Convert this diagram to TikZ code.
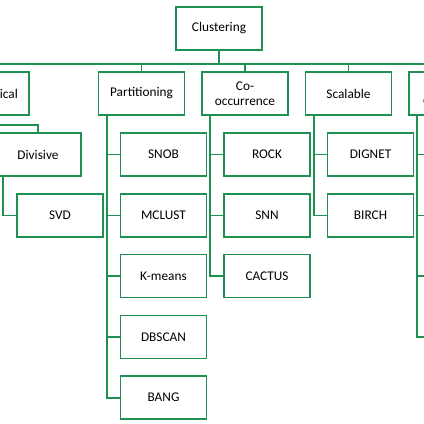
\documentclass[tikz,border=0pt]{standalone}
\usepackage{fontspec}
\setmainfont{Carlito}
\usepackage{tikz}
\definecolor{boxgreen}{RGB}{30,145,82}

\begin{document}
\begin{tikzpicture}[x=1pt,y=-1pt, every node/.style={font=\fontsize{13.3}{15.5}\selectfont},
    box/.style={draw=boxgreen, line width=1.6pt, minimum width=86pt, minimum height=43pt, align=center, inner sep=1pt},
    link/.style={draw=boxgreen, line width=1.6pt}]
  \useasboundingbox (0,0) rectangle (424,424);
  \clip (0,0) rectangle (424,424);
  % root and first level
  \node[box] (clus) at (219,28.5) {Clustering};
  \draw[link] (clus.south) -- ++(0,13) coordinate (bus);
  \foreach \n/\x/\t in {hier/-14/Hierarchical, part/141.5/Partitioning, cooc/245/{Co-\\occurrence}, scal/348.5/Scalable, soft/452/{Soft\\computing}}{
    \node[box] (\n) at (\x,93.5) {\t};
    \draw[link] (\n.north) -- (\n |- bus);
  }
  \draw[link] (hier |- bus) -- (soft |- bus);
  % hierarchical branch
  \node[box] (div) at (38,154.5) {Divisive};
  \draw[link] (hier.south) -- ++(0,9) -| (div.north);
  \node[box] (svd) at (60,215.3) {SVD};
  \draw[link] ([xshift=9pt]div.south west) |- (svd.west);
  % second level, one column per parent
  \foreach \n/\t [count=\i from 0] in {snob/SNOB, mclust/MCLUST, kmeans/K-means, dbscan/DBSCAN, bang/BANG}{
    \node[box] (\n) at (163.5,154.5+60.8*\i) {\t};
    \draw[link] ([xshift=9pt]part.south west) |- (\n.west);
  }
  \foreach \n/\t [count=\i from 0] in {rock/ROCK, snn/SNN, cactus/CACTUS}{
    \node[box] (\n) at (267,154.5+60.8*\i) {\t};
    \draw[link] ([xshift=9pt]cooc.south west) |- (\n.west);
  }
  \foreach \n/\t [count=\i from 0] in {dignet/DIGNET, birch/BIRCH}{
    \node[box] (\n) at (370.5,154.5+60.8*\i) {\t};
    \draw[link] ([xshift=9pt]scal.south west) |- (\n.west);
  }
  \foreach \i in {0,...,3}{
    \coordinate (soft\i) at (431,154.5+60.8*\i);
    \draw[link] ([xshift=9pt]soft.south west) |- (soft\i);
  }
\end{tikzpicture}
\end{document}
